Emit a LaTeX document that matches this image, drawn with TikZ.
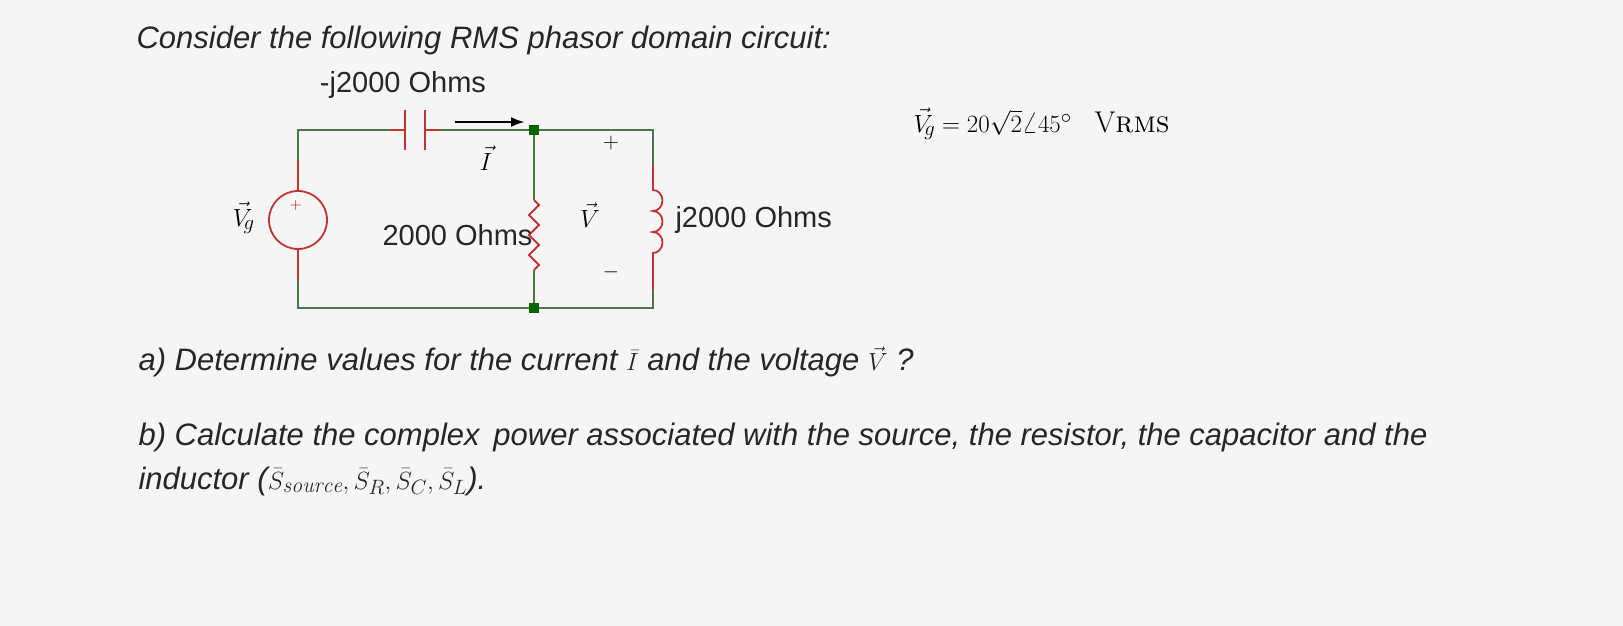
\documentclass[tikz,border=0pt]{standalone}
\usepackage{fontspec}
\setsansfont{Liberation Sans}
\usepackage{amsmath}
\usetikzlibrary{decorations.pathmorphing,arrows.meta}
\begin{document}
\begin{tikzpicture}[x=1pt,y=-1pt,
  wire/.style={draw=black!60!green!40!gray,line width=2pt},
  comp/.style={draw=red!70!black!80,line width=1.8pt},
  lbl/.style={font=\sffamily\fontsize{29}{34}\selectfont,text=black!85},
  q/.style={font=\sffamily\itshape\fontsize{31}{37}\selectfont,anchor=west,text=black!85},
  mth/.style={font=\fontsize{30}{34}\selectfont},
  dot/.style={fill=green!40!black,minimum size=10pt,inner sep=0pt}]
\fill[gray!8] (0,0) rectangle (1623,626);
\useasboundingbox (0,0) rectangle (1623,626);
\node[q] (t) at (133,40) {Consider the following RMS phasor domain circuit:};
% coordinates
\coordinate (tl) at (298,130); \coordinate (bl) at (298,308);
\node[dot] (tm) at (534,130) {}; \node[dot] (bm) at (534,308) {};
\coordinate (tr) at (653,130); \coordinate (br) at (653,308);
\node[circle,comp,minimum size=58pt,inner sep=0pt] (src) at (298,220) {};
\node[font=\fontsize{16}{16}\selectfont,text=red!70!black] (plus) at (296,206) {+};
\coordinate (c1) at (405,130); \coordinate (c2) at (425,130);
\draw[wire] (src.north) -- (tl) -- (c1);
\draw[wire] (c2) -- (tm) -- (tr) -- (653,190);
\draw[wire] (src.south) -- (bl) -- (bm) -- (br) -- (653,253);
\draw[comp] (298,160) -- (src.north) (298,281) -- (src.south);
\draw[comp] (c1) ++(0,-20) -- ++(0,40) (c2) ++(0,-20) -- ++(0,40);
\draw[comp] (390,130) -- (c1) (c2) -- (440,130);
% resistor
\draw[wire] (tm) -- (534,200) (534,270) -- (bm);
\draw[comp,decorate,decoration={zigzag,segment length=20pt,amplitude=5pt}] (534,200) -- (534,270);
% inductor
\draw[comp] (653,165) -- (653,190) arc(-90:90:9.5 and 10.5) arc(-90:90:9.5 and 10.5) arc(-90:90:9.5 and 10.5) -- (653,290);
\draw[-{Latex[length=14pt,width=10pt]},line width=2.5pt] (455,122) -- (525,122);
\node[mth] (I) at (486,158) {$\vec{I}$};
\node[mth,anchor=east] (Vg) at (258,218) {$\vec{V}_{\!g}$};
\node[lbl] (cl) at (403,85) {-j2000 Ohms};
\node[lbl,anchor=east] (rl) at (536,235) {2000 Ohms};
\node[lbl,anchor=west] (ll) at (672,220) {j2000 Ohms};
\node[mth] (V) at (590,215) {$\vec{V}$};
\node[font=\fontsize{22}{22}\selectfont] (p) at (611,143) {+};
\node[font=\fontsize{22}{22}\selectfont] (m) at (611,272) {$-$};
\node[mth,anchor=west] (eq) at (910,124) {$\vec{V}_{\!g}=20\sqrt{2}\angle 45^\circ\;\;$ V\textsc{rms}};
\node[q] (qa) at (135,362) {a) Determine values for the current $\bar{I}$ and the voltage $\vec{V}$ ?};
\node[q] (qb) at (135,437) {b) Calculate the complex\, power associated with the source, the resistor, the capacitor and the};
\node[q] (qc) at (135,481) {inductor ($\bar{S}_{\mathit{source}}, \bar{S}_R, \bar{S}_C, \bar{S}_L$).};
\end{tikzpicture}
\end{document}
